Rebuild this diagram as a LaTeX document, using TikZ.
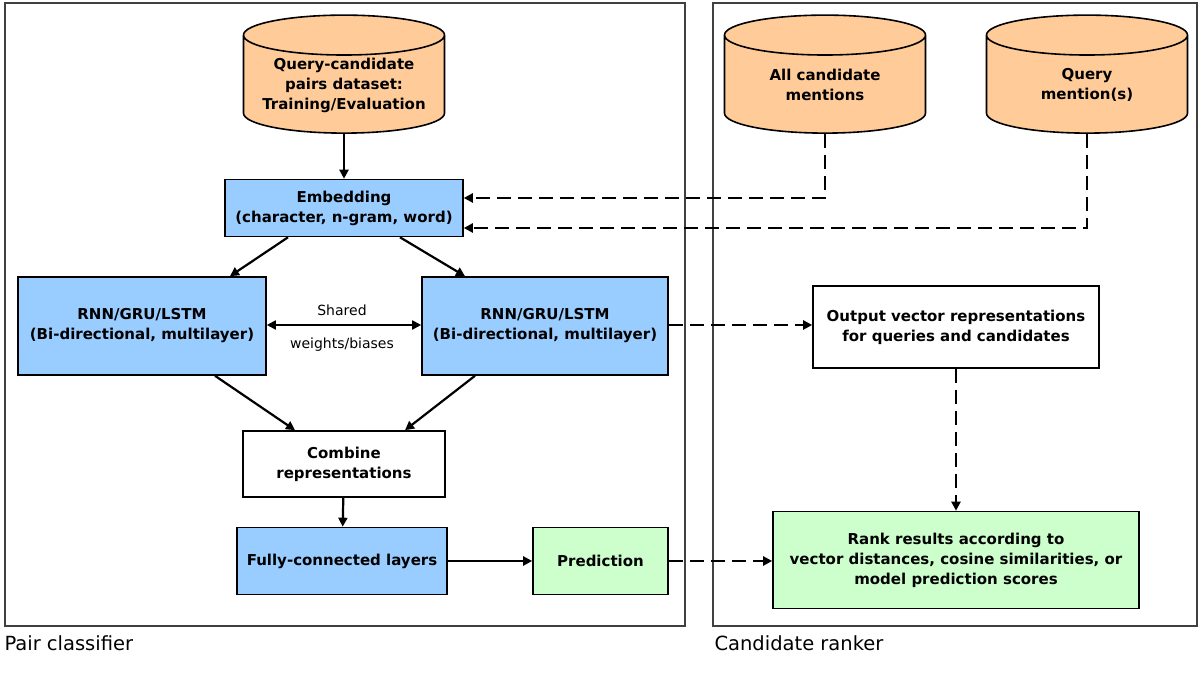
\documentclass[tikz,border=0pt]{standalone}
\usepackage{fontspec}
\setmainfont{DejaVu Sans}
\usetikzlibrary{arrows.meta, positioning, shapes.geometric}
\definecolor{c1}{HTML}{000000}
\definecolor{c2}{HTML}{404040}
\definecolor{peach}{HTML}{FFCC99}
\definecolor{sky}{HTML}{99CCFF}
\definecolor{mint}{HTML}{CCFFCC}
\newcommand{\dbtext}[1]{\smash{\raisebox{-4.5pt}{\parbox[c]{190pt}{\centering #1}}}}

\begin{document}
\begin{tikzpicture}[
    x=1pt, y=1pt,
    every node/.style={font=\fontsize{15}{20}\selectfont\bfseries, text=c1},
    arr/.style={-{Triangle[length=9pt, width=9pt]}, line width=2.2pt, color=c1},
    darr/.style={arr, dash pattern=on 14pt off 7pt},
    lab/.style={font=\fontsize{14}{16}\selectfont, text=c1},
    framelab/.style={font=\fontsize{19.5}{22}\selectfont, text=c1, anchor=west},
    frame/.style={draw=c2, line width=1.1pt},
    box/.style={rectangle, draw=c1, line width=1.6pt, align=center, inner sep=0pt},
    db/.style={
        cylinder, shape border rotate=90, aspect=0.21, draw=c1, fill=peach,
        line width=1.6pt, inner sep=0pt,
        minimum width=201pt, minimum height=118pt,
    },
]
\useasboundingbox (0,0) rectangle (1200,687);

% ================================================================ frames
\draw[frame] (5,684) rectangle (685,61);
\draw[frame] (713,684) rectangle (1197,61);
\node[framelab] (pairlab) at (1,44) {Pair classifier};
\node[framelab] (ranklab) at (711,44) {Candidate ranker};

% ================================================================ left: pair classifier
\node[db] (pairs) at (344,602.5) {\dbtext{Query-candidate\\pairs dataset:\\Training/Evaluation}};
\node[box, fill=sky, minimum width=238pt, minimum height=57pt] (embed) at (344,479)
    {Embedding\\(character, n-gram, word)};

\node[box, fill=sky, minimum width=248pt, minimum height=98pt] (rnnL) at (142,361)
    {RNN/GRU/LSTM\\(Bi-directional, multilayer)};
\node[box, fill=sky, minimum width=246pt, minimum height=98pt] (rnnR) at (545,361)
    {RNN/GRU/LSTM\\(Bi-directional, multilayer)};
\node[lab] (shared) at (342,377) {Shared};
\node[lab] (weights) at (342,342) {weights/biases};

\node[box, fill=white, minimum width=202pt, minimum height=66pt] (comb) at (344,223)
    {Combine\\representations};
\node[box, fill=sky, minimum width=210pt, minimum height=67pt] (fc) at (342,126)
    {Fully-connected layers};
\node[box, fill=mint, minimum width=135pt, minimum height=67pt] (pred) at (600.5,126)
    {Prediction};

\draw[arr] (pairs) -- (embed);
\draw[arr] ([xshift=-56pt]embed.south) -- ([xshift=88pt]rnnL.north);
\draw[arr] ([xshift=56pt]embed.south) -- ([xshift=-80pt]rnnR.north);
\draw[{Triangle[length=9pt, width=9pt]}-{Triangle[length=9pt, width=9pt]}, line width=1.8pt]
    ([yshift=1pt]rnnL.east) -- ([yshift=1pt]rnnR.west);
\draw[arr] ([xshift=73pt]rnnL.south) -- ([xshift=-49pt]comb.north);
\draw[arr] ([xshift=-70pt]rnnR.south) -- ([xshift=61pt]comb.north);
\draw[arr] (comb) -- (fc);
\draw[arr] (fc) -- (pred);

% ================================================================ right: candidate ranker
\node[db] (cands) at (825,602.5) {\dbtext{All candidate\\mentions}};
\node[db] (query) at (1087,602.5) {\dbtext{Query\\mention(s)}};
\node[box, fill=white, minimum width=286pt, minimum height=82pt] (outv) at (956,360)
    {Output vector representations\\for queries and candidates};
\node[box, fill=mint, minimum width=366pt, minimum height=97pt] (rank) at (956,127)
    {Rank results according to\\vector distances, cosine similarities, or\\model prediction scores};

\draw[darr] (cands.south) |- ([yshift=10pt]embed.east);
\draw[darr] (query.south) |- ([yshift=-20pt]embed.east);
\draw[darr] ([yshift=1pt]rnnR.east) -- ([yshift=1pt]rnnR.east -| outv.west);
\draw[darr] (outv) -- (rank);
\draw[darr] (pred) -- (pred -| rank.west);

\end{tikzpicture}
\end{document}
